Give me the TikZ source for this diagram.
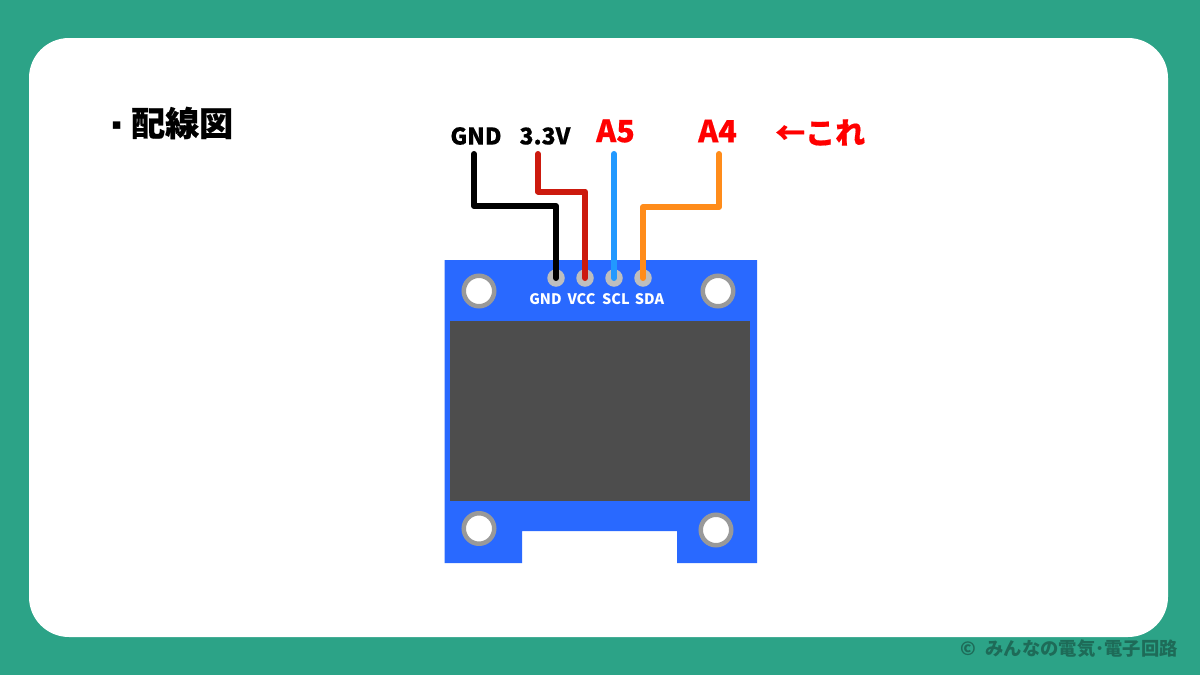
\documentclass[tikz,border=0pt]{standalone}
\usepackage{fontspec}
\setmainfont{Noto Sans CJK JP Black}
\newfontfamily\heavy{Noto Sans CJK JP Black}[FakeBold=0.5]
\newfontfamily\symfont{DejaVu Sans}
\definecolor{bggreen}{HTML}{2CA387}
\definecolor{boardblue}{HTML}{2969FF}
\definecolor{screen}{HTML}{4D4D4D}
\definecolor{ringgray}{HTML}{999999}
\definecolor{padgray}{HTML}{BEBEBE}
\definecolor{wirered}{HTML}{CC1A0E}
\definecolor{wireblue}{HTML}{2299FF}
\definecolor{wireorange}{HTML}{FF8C1A}
\definecolor{credit}{HTML}{1E6B58}
\tikzset{
  wire/.style={line width=6pt,line cap=round,line join=round},
  hole/.style={circle,draw=ringgray,line width=4.5pt,fill=white,minimum size=30.5pt,inner sep=0pt},
  pad/.style={circle,fill=padgray,minimum size=17.5pt,inner sep=0pt},
  lab/.style={inner sep=0pt,anchor=center},
  pinlab/.style={lab,text=white,font=\fontsize{14.5}{15}\selectfont},
  toplab/.style={lab,font=\heavy\fontsize{23}{24}\selectfont},
  redlab/.style={lab,text=red,font=\heavy\fontsize{30.5}{30}\selectfont}
}
\begin{document}
\begin{tikzpicture}[x=1pt,y=-1pt]
\useasboundingbox (0,0) rectangle (1200,675);
\fill[bggreen] (0,0) rectangle (1200,675);
\fill[white,rounded corners=40pt] (29,38) rectangle (1168,637);
\node[lab,anchor=west,font=\heavy\fontsize{34}{36}\selectfont] (title) at (111.5,123) {\raisebox{6.5pt}{\symfont\fontsize{15}{15}\selectfont ▪}\hspace{9.3pt}配線図};
\fill[boardblue] (444.5,260) -- (757,260) -- (757,563) -- (677,563) -- (677,531) -- (522,531) -- (522,563) -- (444.5,563) -- cycle;
\fill[screen] (450,321) rectangle (750,501);
\node[hole] (h1) at (479,291) {};
\node[hole] (h2) at (718,291) {};
\node[hole] (h3) at (479,528.5) {};
\node[hole] (h4) at (716,530) {};
\node[pad] (p1) at (556,278) {};
\node[pad] (p2) at (585,278) {};
\node[pad] (p3) at (614,278) {};
\node[pad] (p4) at (643,278) {};
\node[pinlab] (n1) at (545.5,299) {GND};
\node[pinlab] (n2) at (581.5,299) {VCC};
\node[pinlab] (n3) at (616,299) {SCL};
\node[pinlab] (n4) at (649.5,299) {SDA};
\node[toplab] (t1) at (476,136) {GND};
\node[toplab] (t2) at (545,136) {3.3V};
\node[redlab] (t3) at (615.5,131) {A5};
\node[redlab] (t4) at (717.5,131) {A4};
\node[redlab,anchor=west,font=\heavy\fontsize{30}{30}\selectfont] (t5) at (775,132.5) {←これ};
\coordinate (w1) at (474,154);
\coordinate (w2) at (538,154);
\coordinate (w3) at (614,154);
\coordinate (w4) at (719,154);
\draw[wire,black] (w1) -- (474,206) -- (556,206) -- (p1.center);
\draw[wire,wirered] (w2) -- (538,191.5) -- (585,191.5) -- (p2.center);
\draw[wire,wireblue] (w3) -- (p3.center);
\draw[wire,wireorange] (w4) -- (719,207) -- (643,207) -- (p4.center);
\node[lab,anchor=east,text=credit,font=\fontsize{18.3}{20}\selectfont] (c) at (1178,649) {©\hspace{9pt}みんなの電気･電子回路};
\end{tikzpicture}
\end{document}
